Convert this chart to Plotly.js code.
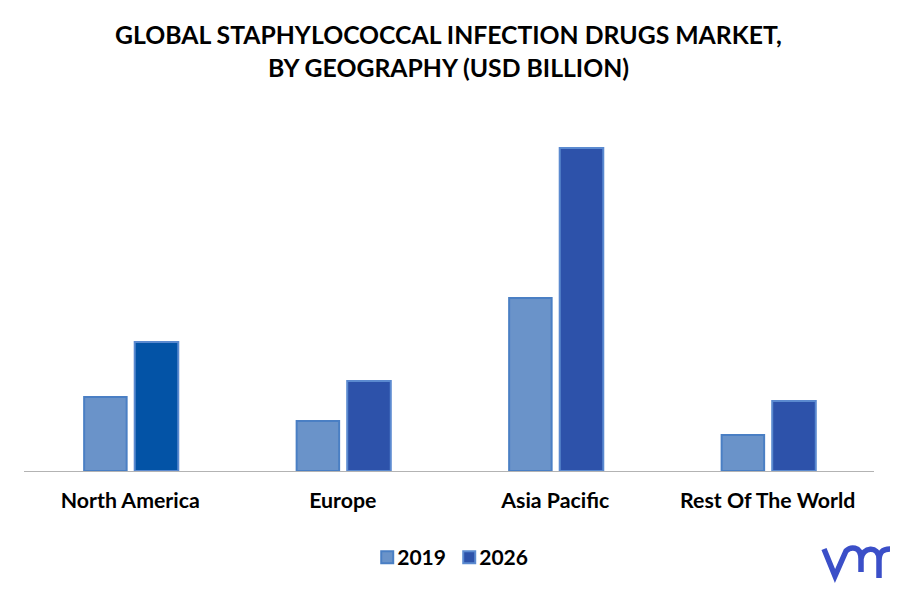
<!DOCTYPE html>
<html><head><meta charset="utf-8">
<script src="https://cdn.plot.ly/plotly-3.0.1.min.js"></script>
<style>html,body{margin:0;padding:0;background:#fff}</style></head>
<body><div id="chart" style="width:897px;height:592px"></div>
<script>
const categories = ["North America","Europe","Asia Pacific","Rest Of The World"];
const values2019 = [0.74,0.50,1.73,0.36];
const values2026 = [1.29,0.90,3.23,0.70];
const colors2026 = ["#0353a6","#2d52aa","#2d52aa","#2d52aa"];
const titleText = "GLOBAL STAPHYLOCOCCAL INFECTION DRUGS MARKET,<br>BY GEOGRAPHY (USD BILLION)";
const FONT = "Lato, Carlito, sans-serif";

const traces = [
 {type:"bar",name:"2019",x:categories,y:values2019,width:0.2,offset:-0.217,marker:{color:"#6a93c9",line:{color:"#4a7fc4",width:2}}},
 {type:"bar",name:"2026",x:categories,y:values2026,width:0.205,offset:0.021,marker:{color:colors2026,line:{color:"#5b8ad0",width:2}}}
];
const layout = {
 width:897,height:592,paper_bgcolor:"#fff",plot_bgcolor:"#fff",
 margin:{l:24,r:23,t:100,b:121,autoexpand:false},
 title:{text:titleText,x:0.5,xanchor:"center",y:0.925,yanchor:"top",font:{family:FONT,size:24.75,weight:700,color:"#000"}},
 barmode:"group",
 xaxis:{type:"category",showgrid:false,zeroline:false,showline:true,linecolor:"#b3b3b3",linewidth:1,ticks:"",
   ticklabelstandoff:10,tickfont:{family:FONT,size:21.3,weight:700,color:"#000"}},
 yaxis:{range:[0,3.71],visible:false,fixedrange:true},
 legend:{orientation:"h",x:0.4885,xanchor:"center",y:-0.178,yanchor:"top",entrywidth:37,entrywidthmode:"pixels",font:{family:FONT,size:21,weight:700,color:"#000"}},
 showlegend:true,
 shapes:[{type:"path",xref:"paper",yref:"paper",xsizemode:"pixel",ysizemode:"pixel",xanchor:0,yanchor:0,
   path:"M 800 -78 L 811 -105 L 822 -80 C 826 -76 837 -74 837 -88 L 837 -101 M 837 -88 C 838 -76 855 -74 855 -88 L 855 -107 M 855 -90 C 855 -80 860 -78 866 -78",
   line:{color:"#3b4fc8",width:5.5},fillcolor:"rgba(0,0,0,0)"}]
};
Plotly.newPlot("chart",traces,layout,{displayModeBar:false,staticPlot:true}).then(()=>{
  const legendFills=["#6a93c9","#2d52aa"];
  document.querySelectorAll(".legend .traces").forEach((t,i)=>{
    const p=t.querySelector(".legendpoints path");
    if(p){p.style.fill=legendFills[i];p.setAttribute("transform","translate(30,0)");}
  });
  document.querySelectorAll(".legend, .legend .scrollbox").forEach(g=>{g.removeAttribute("clip-path");g.style.clipPath="none";});
});
</script></body></html>
